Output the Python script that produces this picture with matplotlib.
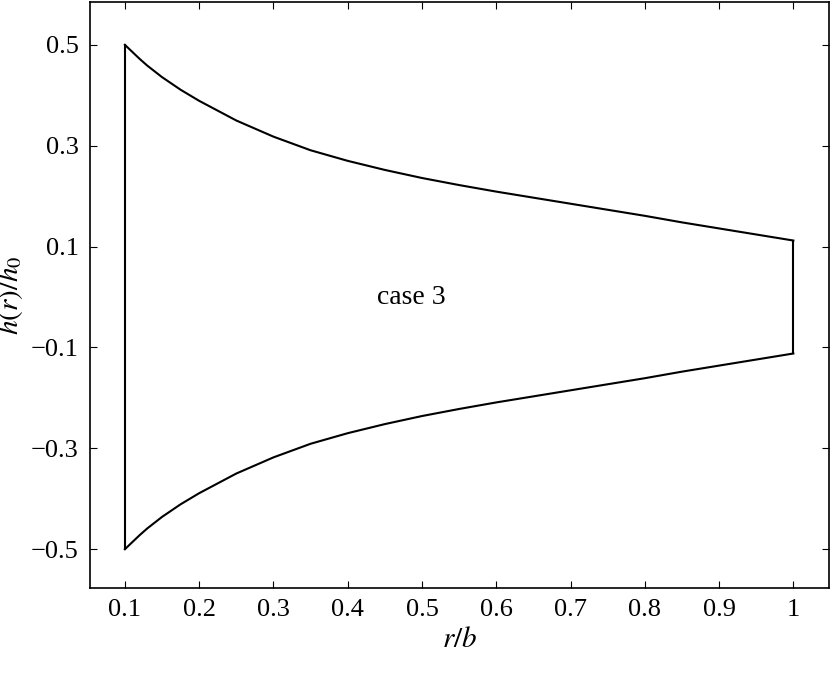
import matplotlib.pyplot as plt

plt.rcParams['font.family'] = ['Liberation Serif', 'DejaVu Serif']
plt.rcParams['mathtext.fontset'] = 'stix'

r = [0.1, 0.11, 0.12, 0.13, 0.15, 0.175, 0.2, 0.25, 0.3, 0.35, 0.4, 0.45, 0.5,
     0.55, 0.6, 0.65, 0.7, 0.75, 0.8, 0.85, 0.9, 0.95, 1.0]
h_top = [0.5, 0.486, 0.472, 0.459, 0.436, 0.411, 0.389, 0.350, 0.318, 0.291,
         0.270, 0.252, 0.236, 0.222, 0.209, 0.197, 0.185, 0.173, 0.161, 0.148,
         0.136, 0.124, 0.112]
h_bot = [-v for v in h_top]
xticks = [0.1, 0.2, 0.3, 0.4, 0.5, 0.6, 0.7, 0.8, 0.9, 1.0]
xlabels = ['0.1', '0.2', '0.3', '0.4', '0.5', '0.6', '0.7', '0.8', '0.9', '1']
yticks = [-0.5, -0.3, -0.1, 0.1, 0.3, 0.5]
ylabels = ['\u22120.5', '\u22120.3', '\u22120.1', '0.1', '0.3', '0.5']

fig = plt.figure(figsize=(8.31, 6.78), dpi=100)
ax = fig.add_axes([90/831, 90/678, 739/831, 586/678])

ax.plot(r, h_top, color='black', lw=1.5)
ax.plot(r, h_bot, color='black', lw=1.5)
ax.plot([r[0], r[0]], [h_bot[0], h_top[0]], color='black', lw=1.5)
ax.plot([r[-1], r[-1]], [h_bot[-1], h_top[-1]], color='black', lw=1.5)
ax.text(0.485, 0.0, 'case 3', fontsize=20, ha='center', va='center')

ax.set_xlim(0.053, 1.048)
ax.set_ylim(-0.577, 0.585)
ax.set_xticks(xticks)
ax.set_xticklabels(xlabels)
ax.set_yticks(yticks)
ax.set_yticklabels(ylabels)
ax.tick_params(direction='in', top=True, right=True, labelsize=19, length=5, pad=8)
for s in ax.spines.values():
    s.set_linewidth(1.2)
ax.set_xlabel('$r/b$', fontsize=21)
ax.set_ylabel('$h(r)/h_0$', fontsize=21)

fig.savefig('out.png', dpi=100)
